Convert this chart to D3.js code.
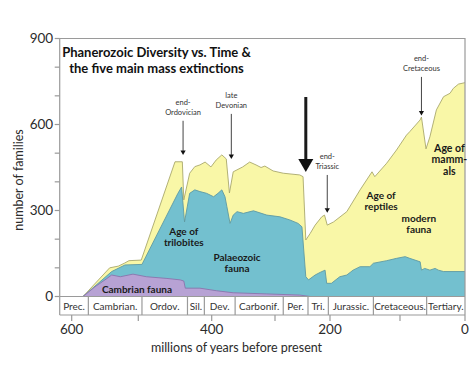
<!DOCTYPE html>
<html><head><meta charset="utf-8">
<script src="https://cdn.jsdelivr.net/npm/d3@7/dist/d3.min.js"></script>
<style>body{margin:0;background:#fff}svg{display:block;font-family:Lato,"Noto Sans",sans-serif}</style>
</head><body><svg id="chart" width="474" height="365"></svg>
<script>
// ---------- data ----------
const tickYears = [600, 500, 400, 300, 200, 100, 0];
const tickLabels = ["600", "", "400", "", "200", "", "0"];
const familyTicks = [0, 100, 200, 300, 400, 500, 600, 700, 800, 900];
const familyLabels = ["0", "", "", "300", "", "", "600", "", "", "900"];

// total diversity (top of yellow, modern fauna)
const totalAge = [583, 543, 530, 521, 514, 496, 450, 440, 438, 430, 423, 416, 409, 401, 393, 384, 377, 372, 366, 351, 340, 330, 322, 316, 303, 285, 255, 249, 244, 236, 227, 215, 210, 205, 195, 176, 157, 140, 136, 119, 105, 90, 85, 69, 67, 60, 54, 44, 33, 23, 18, 10, 0];
const totalFamilies = [0, 100, 106, 116, 125, 127, 470, 470, 337, 430, 453, 459, 469, 452, 476, 494, 480, 361, 435, 452, 469, 459, 450, 455, 438, 430, 424, 418, 197, 220, 249, 278, 284, 249, 260, 296, 372, 435, 418, 465, 511, 563, 575, 616, 626, 515, 557, 651, 697, 709, 726, 741, 746];

// top of Palaeozoic fauna (teal, cumulative)
const palaeoAge = [583, 540, 520, 495, 446, 441, 437, 430, 423, 416, 407, 397, 390, 384, 379, 376, 371, 366, 360, 350, 334, 313, 291, 273, 258, 251, 244, 239, 227, 218, 209, 206, 198, 186, 176, 167, 157, 143, 138, 119, 105, 92, 85, 69, 67, 62, 54, 46, 41, 33, 0];
const palaeoFamilies = [0, 87, 110, 112, 360, 382, 260, 360, 372, 366, 360, 348, 360, 372, 348, 313, 255, 284, 296, 290, 299, 284, 278, 267, 255, 243, 69, 58, 75, 84, 92, 46, 46, 69, 75, 92, 104, 104, 116, 125, 133, 139, 133, 121, 92, 98, 92, 98, 92, 87, 87];

// top of Cambrian fauna (purple)
const cambrianAge = [583, 565, 550, 540, 527, 508, 489, 461, 443, 438, 436, 416, 392, 366, 313, 255, 236];
const cambrianFamilies = [0, 34, 58, 75, 69, 78, 69, 63, 58, 54, 29, 29, 20, 13, 9, 5, 0];

// geological periods
const periodNames = ["Prec.", "Cambrian.", "Ordov.", "Sil.", "Dev.", "Carbonif.", "Per.", "Tri.", "Jurassic.", "Cretaceous.", "Tertiary."];
const periodStart = [618, 575, 495, 433, 410, 363, 285, 240, 203, 138, 59];
const periodEnd = [575, 495, 433, 410, 363, 285, 240, 203, 138, 59, 0];

// mass extinctions (arrows)
const eventLine1 = ["end-", "late", "end-", "end-"];
const eventLine2 = ["Ordovician", "Devonian", "Triassic", "Cretaceous"];
const eventAge = [439, 369, 205, 67];
const eventTip = [494, 480, 292, 631];
const eventTop = [613, 637, 424, 766];
const bigArrowAge = 244, bigArrowTip = 434, bigArrowTop = 696;

// fauna labels
const faunaText = [["Age of", "trilobites"], ["Palaeozoic", "fauna"], ["Cambrian fauna"], ["Age of", "reptiles"], ["modern", "fauna"], ["Age of", "mamm-", "als"]];
const faunaAge = [438, 360, 502, 127, 71, 24];
const faunaFam = [215, 125, 11, 340, 261, 505];

// ---------- layout ----------
const svg = d3.select("#chart");
const x = d3.scaleLinear().domain(tickYears).range([71.7, 138.3, 211.7, 275, 330, 400, 465]);
const y = d3.scaleLinear().domain([0, 900]).range([296.5, 38.5]);
const left = x(618), right = x(0), rowBottom = 315;

const area = (ages, fams) => d3.area().x((d, i) => x(ages[i])).y0(y(0)).y1((d, i) => y(fams[i]))(ages);
const line = (ages, fams) => d3.line().x((d, i) => x(ages[i])).y((d, i) => y(fams[i]))(ages);

svg.append("path").attr("d", area(totalAge, totalFamilies)).attr("fill", "#f9f7a7");
svg.append("path").attr("d", line(totalAge, totalFamilies)).attr("fill", "none").attr("stroke", "#a9a86c").attr("stroke-width", 0.9);
svg.append("path").attr("d", area(palaeoAge, palaeoFamilies)).attr("fill", "#73c0cf");
svg.append("path").attr("d", line(palaeoAge, palaeoFamilies)).attr("fill", "none").attr("stroke", "#5f9aa3").attr("stroke-width", 0.9);
svg.append("path").attr("d", area(cambrianAge, cambrianFamilies)).attr("fill", "#b7a2d4");
svg.append("path").attr("d", line(cambrianAge, cambrianFamilies)).attr("fill", "none").attr("stroke", "#8a74ad").attr("stroke-width", 0.9);

// frame
const frame = "#9a9a9a";
svg.append("path").attr("d", `M${left},${y(0)}V${y(900)}H${right}V${rowBottom}`).attr("fill", "none").attr("stroke", frame).attr("stroke-width", 1.2);
svg.append("line").attr("x1", left).attr("x2", right).attr("y1", y(0)).attr("y2", y(0)).attr("stroke", frame).attr("stroke-width", 1.2);
svg.append("line").attr("x1", left).attr("x2", right).attr("y1", rowBottom).attr("y2", rowBottom).attr("stroke", frame).attr("stroke-width", 1.2);
svg.append("line").attr("x1", left).attr("x2", left).attr("y1", y(0)).attr("y2", rowBottom).attr("stroke", frame).attr("stroke-width", 1.2);

// y axis ticks
const yAxis = svg.append("g");
yAxis.selectAll("line").data(familyTicks).join("line")
  .attr("x1", left - 5).attr("x2", left).attr("y1", d => y(d)).attr("y2", d => y(d)).attr("stroke", frame).attr("stroke-width", 1.2);
yAxis.selectAll("text").data(familyTicks).join("text")
  .attr("x", left - 6.5).attr("y", d => y(d)).attr("dy", "0.36em").attr("text-anchor", "end")
  .attr("font-size", 13.5).attr("fill", "#2b2b2b").text((d, i) => familyLabels[i]);

// period row
const periods = svg.append("g");
periodNames.forEach((n, i) => {
  if (i > 0) periods.append("line").attr("x1", x(periodStart[i])).attr("x2", x(periodStart[i])).attr("y1", y(0)).attr("y2", rowBottom).attr("stroke", frame).attr("stroke-width", 1.2);
  periods.append("text").attr("x", (x(periodStart[i]) + x(periodEnd[i])) / 2).attr("y", 309.5)
    .attr("text-anchor", "middle").attr("font-size", 10).attr("fill", "#333").text(n);
});

// x ticks
const xAxis = svg.append("g");
xAxis.selectAll("line").data(tickYears).join("line")
  .attr("x1", d => x(d)).attr("x2", d => x(d)).attr("y1", rowBottom).attr("y2", rowBottom + 6).attr("stroke", frame).attr("stroke-width", 1.2);
xAxis.selectAll("text").data(tickYears).join("text")
  .attr("x", d => x(d)).attr("y", 333.5).attr("text-anchor", "middle")
  .attr("font-size", 13.5).attr("fill", "#2b2b2b").text((d, i) => tickLabels[i]);

// axis titles
svg.append("text").attr("x", 236.5).attr("y", 351.5).attr("text-anchor", "middle").attr("font-size", 12.5).attr("fill", "#2b2b2b").text("millions of years before present");
svg.append("text").attr("transform", "translate(23,180) rotate(-90)").attr("text-anchor", "middle").attr("font-size", 12.5).attr("fill", "#2b2b2b").text("number of families");

// title
const title = svg.append("text").attr("text-anchor", "middle").attr("font-weight", "bold").attr("font-size", 13).attr("fill", "#111");
title.append("tspan").attr("x", 156.5).attr("y", 57).text("Phanerozoic Diversity vs. Time &");
title.append("tspan").attr("x", 156.5).attr("y", 72.5).text("the five main mass extinctions");

// extinction arrows
eventAge.forEach((a, i) => {
  const cx = x(a), ty = y(eventTip[i]), sy = y(eventTop[i]);
  svg.append("line").attr("x1", cx).attr("x2", cx).attr("y1", sy).attr("y2", ty - 4).attr("stroke", "#444").attr("stroke-width", 1);
  svg.append("path").attr("d", `M${cx - 2.6},${ty - 4.5}L${cx + 2.6},${ty - 4.5}L${cx},${ty}Z`).attr("fill", "#111");
  const t = svg.append("text").attr("text-anchor", "middle").attr("font-size", 7.5).attr("fill", "#333");
  t.append("tspan").attr("x", cx).attr("y", sy - 15.5).text(eventLine1[i]);
  t.append("tspan").attr("x", cx).attr("y", sy - 5.5).text(eventLine2[i]);
});
{
  const cx = x(bigArrowAge), ty = y(bigArrowTip), sy = y(bigArrowTop);
  svg.append("line").attr("x1", cx).attr("x2", cx).attr("y1", sy).attr("y2", ty - 12).attr("stroke", "#1a1a1a").attr("stroke-width", 3);
  svg.append("path").attr("d", `M${cx - 7.5},${ty - 13}L${cx + 7.5},${ty - 13}L${cx},${ty}Z`).attr("fill", "#111");
}

// fauna labels
faunaText.forEach((lines, i) => {
  const big = i === 5;
  const t = svg.append("text").attr("text-anchor", "middle").attr("font-weight", "bold")
    .attr("font-size", big ? 10.5 : 10).attr("fill", "#1a1a1a");
  lines.forEach((s, j) => t.append("tspan").attr("x", x(faunaAge[i])).attr("y", y(faunaFam[i]) + j * (big ? 11.7 : 11.3)).text(s));
});
</script></body></html>
